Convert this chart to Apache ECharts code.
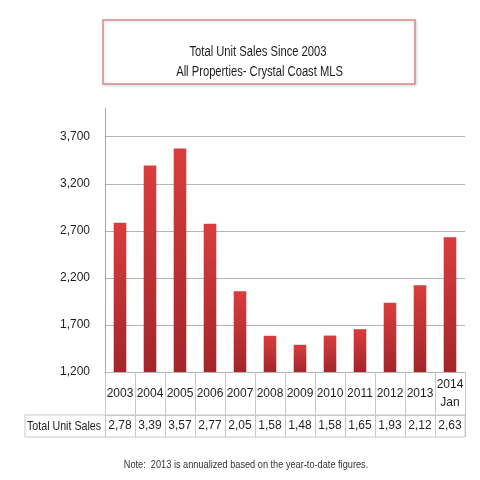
<!DOCTYPE html>
<html>
<head>
    <meta charset="UTF-8">
    <title>Total Unit Sales Since 2003</title>
    <script src="https://cdn.jsdelivr.net/npm/echarts@6/dist/echarts.min.js"></script>
    <style>
        html, body {margin: 0; padding: 0; background: #fff;}
        #chart {width: 480px; height: 480px;}
    </style>
</head>
<body>
    <div id="chart"></div>

    <script>
        // 数据
        const years = ['2003', '2004', '2005', '2006', '2007', '2008', '2009', '2010', '2011', '2012', '2013', '2014\nJan'];
        const unitSales = [2785, 3395, 3575, 2775, 2058, 1585, 1489, 1587, 1655, 1935, 2122, 2633];
        const tableLabels = ['2,78', '3,39', '3,57', '2,77', '2,05', '1,58', '1,48', '1,58', '1,65', '1,93', '2,12', '2,63'];
        const titleLines = ['Total Unit Sales Since 2003', ' All Properties- Crystal Coast MLS'];
        const rowName = 'Total Unit Sales';
        const note = 'Note:  2013 is annualized based on the year-to-date figures.';

        const font = '"Liberation Sans", Arial, sans-serif';
        const gridColor = '#b4b4b4';
        const tableColor = '#c8c8c8';
        const ink = '#1e1e1e';

        const chart = echarts.init(document.getElementById('chart'));
        chart.setOption({
            animation: false,
            textStyle: { fontFamily: font },
            grid: { left: 105, right: 15, top: 108.5, bottom: 108, containLabel: false },
            xAxis: [
                {
                    type: 'category',
                    data: years,
                    position: 'bottom',
                    axisLine: { show: true, lineStyle: { color: gridColor } },
                    axisTick: { show: true, interval: 0, length: 43, lineStyle: { color: tableColor } },
                    axisLabel: {
                        interval: 0, margin: 22, verticalAlign: 'middle', lineHeight: 18,
                        fontSize: 12, color: ink, fontFamily: font
                    }
                },
                {
                    type: 'category',
                    data: tableLabels,
                    position: 'bottom',
                    offset: 43,
                    axisLine: { show: true, lineStyle: { color: tableColor } },
                    axisTick: { show: true, interval: 0, length: 22, lineStyle: { color: tableColor } },
                    axisLabel: {
                        interval: 0, margin: 11, verticalAlign: 'middle',
                        fontSize: 12, color: ink, fontFamily: font
                    }
                }
            ],
            yAxis: {
                type: 'value',
                min: 1200,
                max: 4000,
                interval: 500,
                axisLine: { show: true, lineStyle: { color: '#a8a8a8' } },
                axisTick: { show: false },
                axisLabel: {
                    margin: 15, fontSize: 12, color: ink, fontFamily: font,
                    formatter: v => (v === 4000 ? '' : v.toLocaleString('en-US'))
                },
                splitLine: { show: true, showMaxLine: false, lineStyle: { color: gridColor } }
            },
            series: [
                {
                    name: rowName,
                    type: 'bar',
                    xAxisIndex: 0,
                    data: unitSales,
                    barWidth: '42%',
                    itemStyle: {
                        color: new echarts.graphic.LinearGradient(0, 0, 0, 1, [
                            { offset: 0, color: '#d93d3d' },
                            { offset: 1, color: '#a2262b' }
                        ])
                    }
                }
            ],
            graphic: [
                {
                    type: 'rect',
                    shape: { x: 103, y: 20, width: 312, height: 64 },
                    style: { fill: '#fff', stroke: '#d9868a', lineWidth: 1.5,
                             shadowBlur: 3, shadowColor: 'rgba(0,0,0,0.15)', shadowOffsetX: 1, shadowOffsetY: 1 }
                },
                {
                    type: 'text',
                    x: 258, y: 62,
                    scaleX: 0.8,
                    style: {
                        text: titleLines.join('\n'),
                        align: 'center', verticalAlign: 'middle', lineHeight: 20,
                        font: '14px ' + font, fill: ink
                    }
                },
                {
                    type: 'rect',
                    shape: { x: 25, y: 415, width: 440, height: 22 },
                    style: { fill: 'none', stroke: tableColor, lineWidth: 1 }
                },
                {
                    type: 'text',
                    x: 27, y: 426.5,
                    scaleX: 0.82,
                    style: {
                        text: rowName, align: 'left', verticalAlign: 'middle',
                        font: '13px ' + font, fill: ink
                    }
                },
                {
                    type: 'text',
                    x: 246, y: 465,
                    scaleX: 0.8,
                    style: {
                        text: note, align: 'center', verticalAlign: 'middle',
                        font: '11.5px ' + font, fill: '#333'
                    }
                }
            ]
        });
    </script>
</body>
</html>
